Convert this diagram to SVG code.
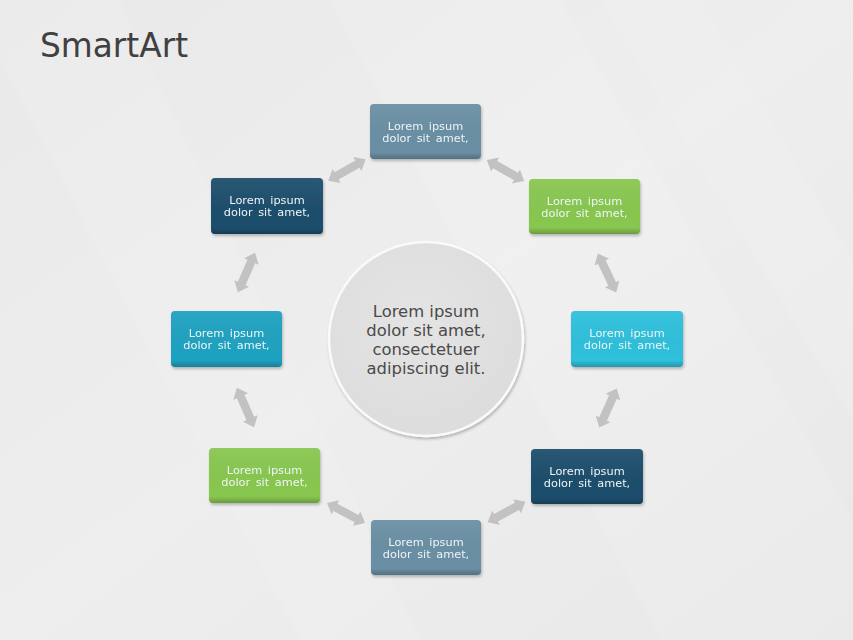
<svg xmlns="http://www.w3.org/2000/svg" xmlns:xlink="http://www.w3.org/1999/xlink" width="853" height="640" viewBox="0 0 853 640">
  <defs>
    <linearGradient id="bg" x1="0" y1="0" x2="1" y2="1">
      <stop offset="0" stop-color="#e9e9e9"/>
      <stop offset="0.5" stop-color="#eeeeee"/>
      <stop offset="1" stop-color="#e8e8e8"/>
    </linearGradient>
    <linearGradient id="bev" x1="0" y1="0" x2="0" y2="1">
      <stop offset="0" stop-color="#ffffff" stop-opacity="0.06"/>
      <stop offset="0.88" stop-color="#000000" stop-opacity="0"/>
      <stop offset="1" stop-color="#000000" stop-opacity="0.22"/>
    </linearGradient>
    <radialGradient id="circ" cx="0.45" cy="0.4" r="0.65">
      <stop offset="0" stop-color="#e4e4e4"/>
      <stop offset="1" stop-color="#dcdcdc"/>
    </radialGradient>
    <filter id="sh" x="-20%" y="-20%" width="140%" height="150%">
      <feGaussianBlur in="SourceAlpha" stdDeviation="1.5"/>
      <feOffset dx="1" dy="1.5" result="b"/>
      <feComponentTransfer><feFuncA type="linear" slope="0.25"/></feComponentTransfer>
      <feMerge><feMergeNode/><feMergeNode in="SourceGraphic"/></feMerge>
    </filter>
    <path id="darr" d="M-21.5,0 L-12,-8 L-12,-4.2 L12,-4.2 L12,-8 L21.5,0 L12,8 L12,4.2 L-12,4.2 L-12,8 Z"/>
    <style>
      .box { stroke: none; }
      .bt { font-family: "DejaVu Sans", Verdana, sans-serif; font-size: 11.3px; fill: #eef5f5; text-anchor: middle; word-spacing: 2px; }
      .ct { font-family: "DejaVu Sans", Verdana, sans-serif; font-size: 16.4px; fill: #4a4a4a; text-anchor: middle; }
      .arr { fill: #c2c2c2; }
      .slate { fill: #6a8fa4; }
      .green { fill: #88c750; }
      .navy { fill: #1d4e6c; }
      .teal { fill: #1fa2c1; }
      .cyan { fill: #2ec0dc; }
    </style>
  </defs>

  <rect width="853" height="640" fill="url(#bg)"/>
  <g fill="#ffffff">
    <polygon points="0,60 0,0 120,0 420,640 300,640" opacity="0.10"/>
    <polygon points="330,0 560,0 853,520 853,640 660,640" opacity="0.12"/>
    <polygon points="600,0 700,0 853,260 853,420" opacity="0.10"/>
  </g>

  <text x="40" y="57" font-family="DejaVu Sans, Verdana, sans-serif" font-size="32.8" fill="#404040">SmartArt</text>

  <g id="connectors" class="arr">
    <use xlink:href="#darr" transform="translate(347,170) rotate(-29.7)"/>
    <use xlink:href="#darr" transform="translate(505.5,170.5) rotate(29.6)"/>
    <use xlink:href="#darr" transform="translate(607,273) rotate(64.7)"/>
    <use xlink:href="#darr" transform="translate(608,408) rotate(-65.8)"/>
    <use xlink:href="#darr" transform="translate(506.5,512) rotate(-28.4)"/>
    <use xlink:href="#darr" transform="translate(346,513) rotate(27.8)"/>
    <use xlink:href="#darr" transform="translate(245.5,407.5) rotate(66.4)"/>
    <use xlink:href="#darr" transform="translate(246.5,272.5) rotate(-66.4)"/>
  </g>

  <g id="center">
    <circle cx="426" cy="339" r="97" fill="url(#circ)" stroke="#fafafa" stroke-width="2.5" filter="url(#sh)"/>
    <text class="ct" x="426" y="317">Lorem ipsum</text>
    <text class="ct" x="426" y="336">dolor sit amet,</text>
    <text class="ct" x="426" y="355">consectetuer</text>
    <text class="ct" x="426" y="374">adipiscing elit.</text>
  </g>

  <g id="n-top" filter="url(#sh)">
    <rect class="box slate" x="370" y="104" width="111" height="55" rx="4"/>
    <rect x="370" y="104" width="111" height="55" rx="4" fill="url(#bev)"/>
    <text class="bt" x="425.5" y="130">Lorem ipsum</text>
    <text class="bt" x="425.5" y="142">dolor sit amet,</text>
  </g>

  <g id="n-topright" filter="url(#sh)">
    <rect class="box green" x="529" y="179" width="111" height="55" rx="4"/>
    <rect x="529" y="179" width="111" height="55" rx="4" fill="url(#bev)"/>
    <text class="bt" x="584.5" y="205">Lorem ipsum</text>
    <text class="bt" x="584.5" y="217">dolor sit amet,</text>
  </g>

  <g id="n-right" filter="url(#sh)">
    <rect class="box cyan" x="571" y="311" width="112" height="56" rx="4"/>
    <rect x="571" y="311" width="112" height="56" rx="4" fill="url(#bev)"/>
    <text class="bt" x="627" y="337">Lorem ipsum</text>
    <text class="bt" x="627" y="349">dolor sit amet,</text>
  </g>

  <g id="n-bottomright" filter="url(#sh)">
    <rect class="box navy" x="531" y="449" width="112" height="55" rx="4"/>
    <rect x="531" y="449" width="112" height="55" rx="4" fill="url(#bev)"/>
    <text class="bt" x="587" y="475">Lorem ipsum</text>
    <text class="bt" x="587" y="487">dolor sit amet,</text>
  </g>

  <g id="n-bottom" filter="url(#sh)">
    <rect class="box slate" x="371" y="520" width="110" height="55" rx="4"/>
    <rect x="371" y="520" width="110" height="55" rx="4" fill="url(#bev)"/>
    <text class="bt" x="426" y="546">Lorem ipsum</text>
    <text class="bt" x="426" y="558">dolor sit amet,</text>
  </g>

  <g id="n-bottomleft" filter="url(#sh)">
    <rect class="box green" x="209" y="448" width="111" height="55" rx="4"/>
    <rect x="209" y="448" width="111" height="55" rx="4" fill="url(#bev)"/>
    <text class="bt" x="264.5" y="474">Lorem ipsum</text>
    <text class="bt" x="264.5" y="486">dolor sit amet,</text>
  </g>

  <g id="n-left" filter="url(#sh)">
    <rect class="box teal" x="171" y="311" width="111" height="56" rx="4"/>
    <rect x="171" y="311" width="111" height="56" rx="4" fill="url(#bev)"/>
    <text class="bt" x="226.5" y="337">Lorem ipsum</text>
    <text class="bt" x="226.5" y="349">dolor sit amet,</text>
  </g>

  <g id="n-topleft" filter="url(#sh)">
    <rect class="box navy" x="211" y="178" width="112" height="56" rx="4"/>
    <rect x="211" y="178" width="112" height="56" rx="4" fill="url(#bev)"/>
    <text class="bt" x="267" y="204">Lorem ipsum</text>
    <text class="bt" x="267" y="216">dolor sit amet,</text>
  </g>
</svg>
